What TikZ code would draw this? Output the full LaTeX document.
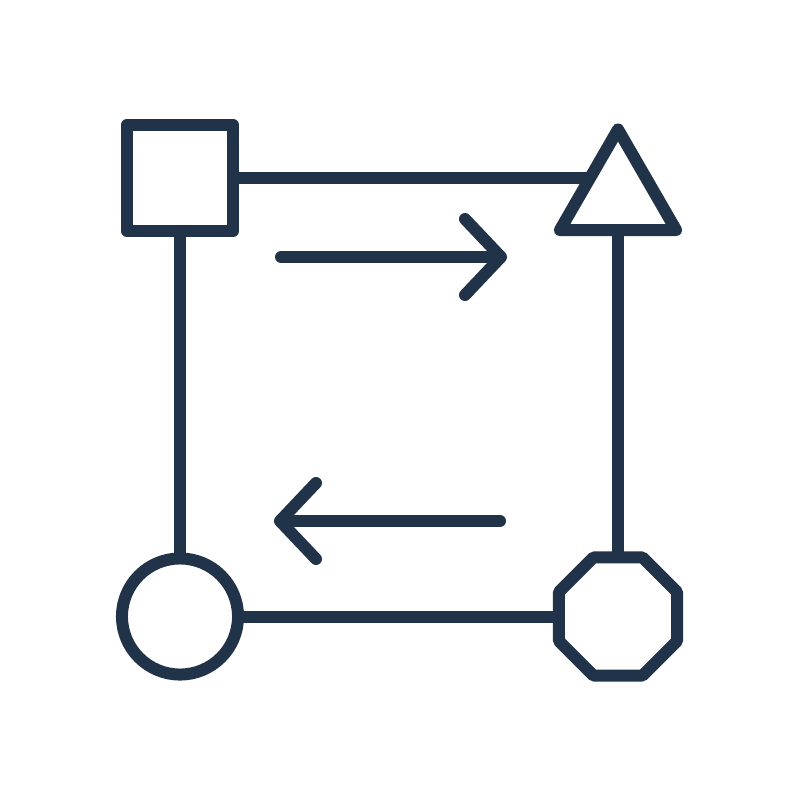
\documentclass[tikz,border=0pt]{standalone}
\usetikzlibrary{shapes.geometric,backgrounds}
\definecolor{ink}{RGB}{33,51,72}
\begin{document}
\begin{tikzpicture}[x=0.01cm,y=-0.01cm,
  every path/.style={line width=0.12cm},
  shp/.style={draw=ink,fill=white,line width=0.12cm,inner sep=0pt,outer sep=0pt,line join=round},
  conn/.style={draw=ink,line width=0.12cm},
  arr/.style={draw=ink,line width=0.12cm,line cap=round,line join=round}]
\useasboundingbox (0,0) rectangle (800,800);
\node[shp,rectangle,minimum size=1.06cm] (sq) at (180,178) {};
\node[shp,regular polygon,regular polygon sides=3,minimum size=1.34cm] (tri) at (618,196.5) {};
\node[shp,circle,minimum size=1.16cm] (circ) at (180,616.5) {};
\node[shp,regular polygon,regular polygon sides=8,minimum size=1.278cm] (oct) at (618,616.5) {};
\begin{scope}[on background layer]
\fill[white] (0,0) rectangle (800,800);
\draw[conn] (sq.east) -- (sq.east -| tri.center);
\draw[conn] (sq.south) -- (circ.north);
\draw[conn] (tri.south) -- (oct.north);
\draw[conn] (circ.east) -- (oct.west);
\end{scope}
\draw[arr] (281,257) -- (500,257);
\draw[arr] (465,219) -- (501,257) -- (465,295);
\draw[arr] (500,521) -- (281,521);
\draw[arr] (316,483) -- (280,521) -- (316,559);
\end{tikzpicture}
\end{document}
